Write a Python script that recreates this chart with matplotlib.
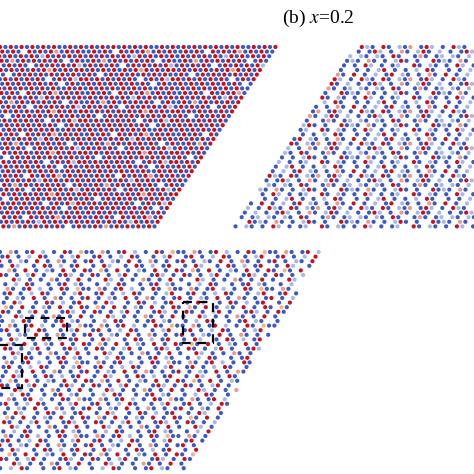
import matplotlib
matplotlib.use("Agg")
import matplotlib.pyplot as plt
from matplotlib.patches import Rectangle

plt.rcParams["mathtext.fontset"] = "stix"

# Patrones de espines leídos aproximadamente (R/B fuerte, r/b débil, . vacío)
tile_a = [
    "RBRBRBRBRBRBBRBRB",
    "BRBRB.RBRBRrBRBRB",
    "RBRBRBRBbRBRBRBRB",
    "BRBrBRBRBRBRB.BRB",
    "RBRBRB.BRBRBRBRbB",
    "BRBRBRBRBRrRBRBRR",
    "RB.BRBRBRBRBRBRBB",
    "BRBRBRBRB.BRBRbRR",
    "RBRBRBRBRBRB.BRBB",
]
tile_b = [
    "bB.RB.bBr.BRb.B.R",
    ".BRb.B.rB.bRB.b.B",
    "B.bB.RB..BrB.Bb.b",
    ".rB.B.bRB.B..RBbB",
    "Rb.B.Bb..RB.bB.B.",
    ".B.bR.B.B.b.RB..B",
    "B.b.BR.bB.B.rB.R.",
]
tile_c = [
    "B.rB.BR.b.B.RB.oB",
    ".BR.B.b.RB..B.bR.",
    "R.B.bB.R.B.rB.B.B",
    ".B.Rb..B.RB.b.BR.",
    "B.oB.R.B.bB.R.B.R",
    ".RB.B.bR.B..BRb.B",
    "B..Rb.B.B.rB.B.R.",
    ".B.b.RB..B.BR.bB.",
]
panels = [
    # (y arriba, y abajo, borde izq. arriba, pendiente izq., borde der. arriba, pendiente der., patrón)
    (47, 228, 0, 0.0, 277, 0.68, tile_a),
    (47, 228, 357, 0.68, 474, 0.0, tile_b),
    (252, 470, 0, 0.0, 322, 0.62, tile_c),
]
colores = {"R": "#c8101e", "B": "#3a58c8", "r": "#ec9a8a", "b": "#a8b8ea", "o": "#f2b488"}
cajas = [(25, 318, 42, 20), (183, 302, 30, 41), (-2, 345, 24, 43)]

dy = 4.6
dx = 5.4
corrimiento = 3.1

fig = plt.figure(figsize=(4.74, 4.74), dpi=100)
ax = fig.add_axes([0, 0, 1, 1])
ax.set_xlim(0, 474)
ax.set_ylim(474, 0)
ax.axis("off")

for y0, y1, xl, pl, xr, pr, tile in panels:
    xs, ys, cs = [], [], []
    j = 0
    y = y0
    while y <= y1:
        izq = xl - pl * (y - y0)
        der = xr - pr * (y - y0)
        fila = tile[j % len(tile)]
        for k in range(-60, 140):
            x = k * dx - (j * corrimiento) % dx
            if izq - 1 <= x <= der:
                c = fila[k % len(fila)]
                if c in colores:
                    xs.append(x)
                    ys.append(y)
                    cs.append(colores[c])
        y += dy
        j += 1
    ax.scatter(xs, ys, s=9, c=cs, linewidths=0)

for x, y, w, h in cajas:
    ax.add_patch(Rectangle((x, y), w, h, fill=False, ec="black", lw=1.6, ls=(0, (4, 3))))

ax.text(282, 18, "(b) $x$=0.2", fontsize=14, family="Liberation Serif", va="center", ha="left",
        bbox=dict(fc="white", ec="none", pad=1))

fig.savefig("out.png")
